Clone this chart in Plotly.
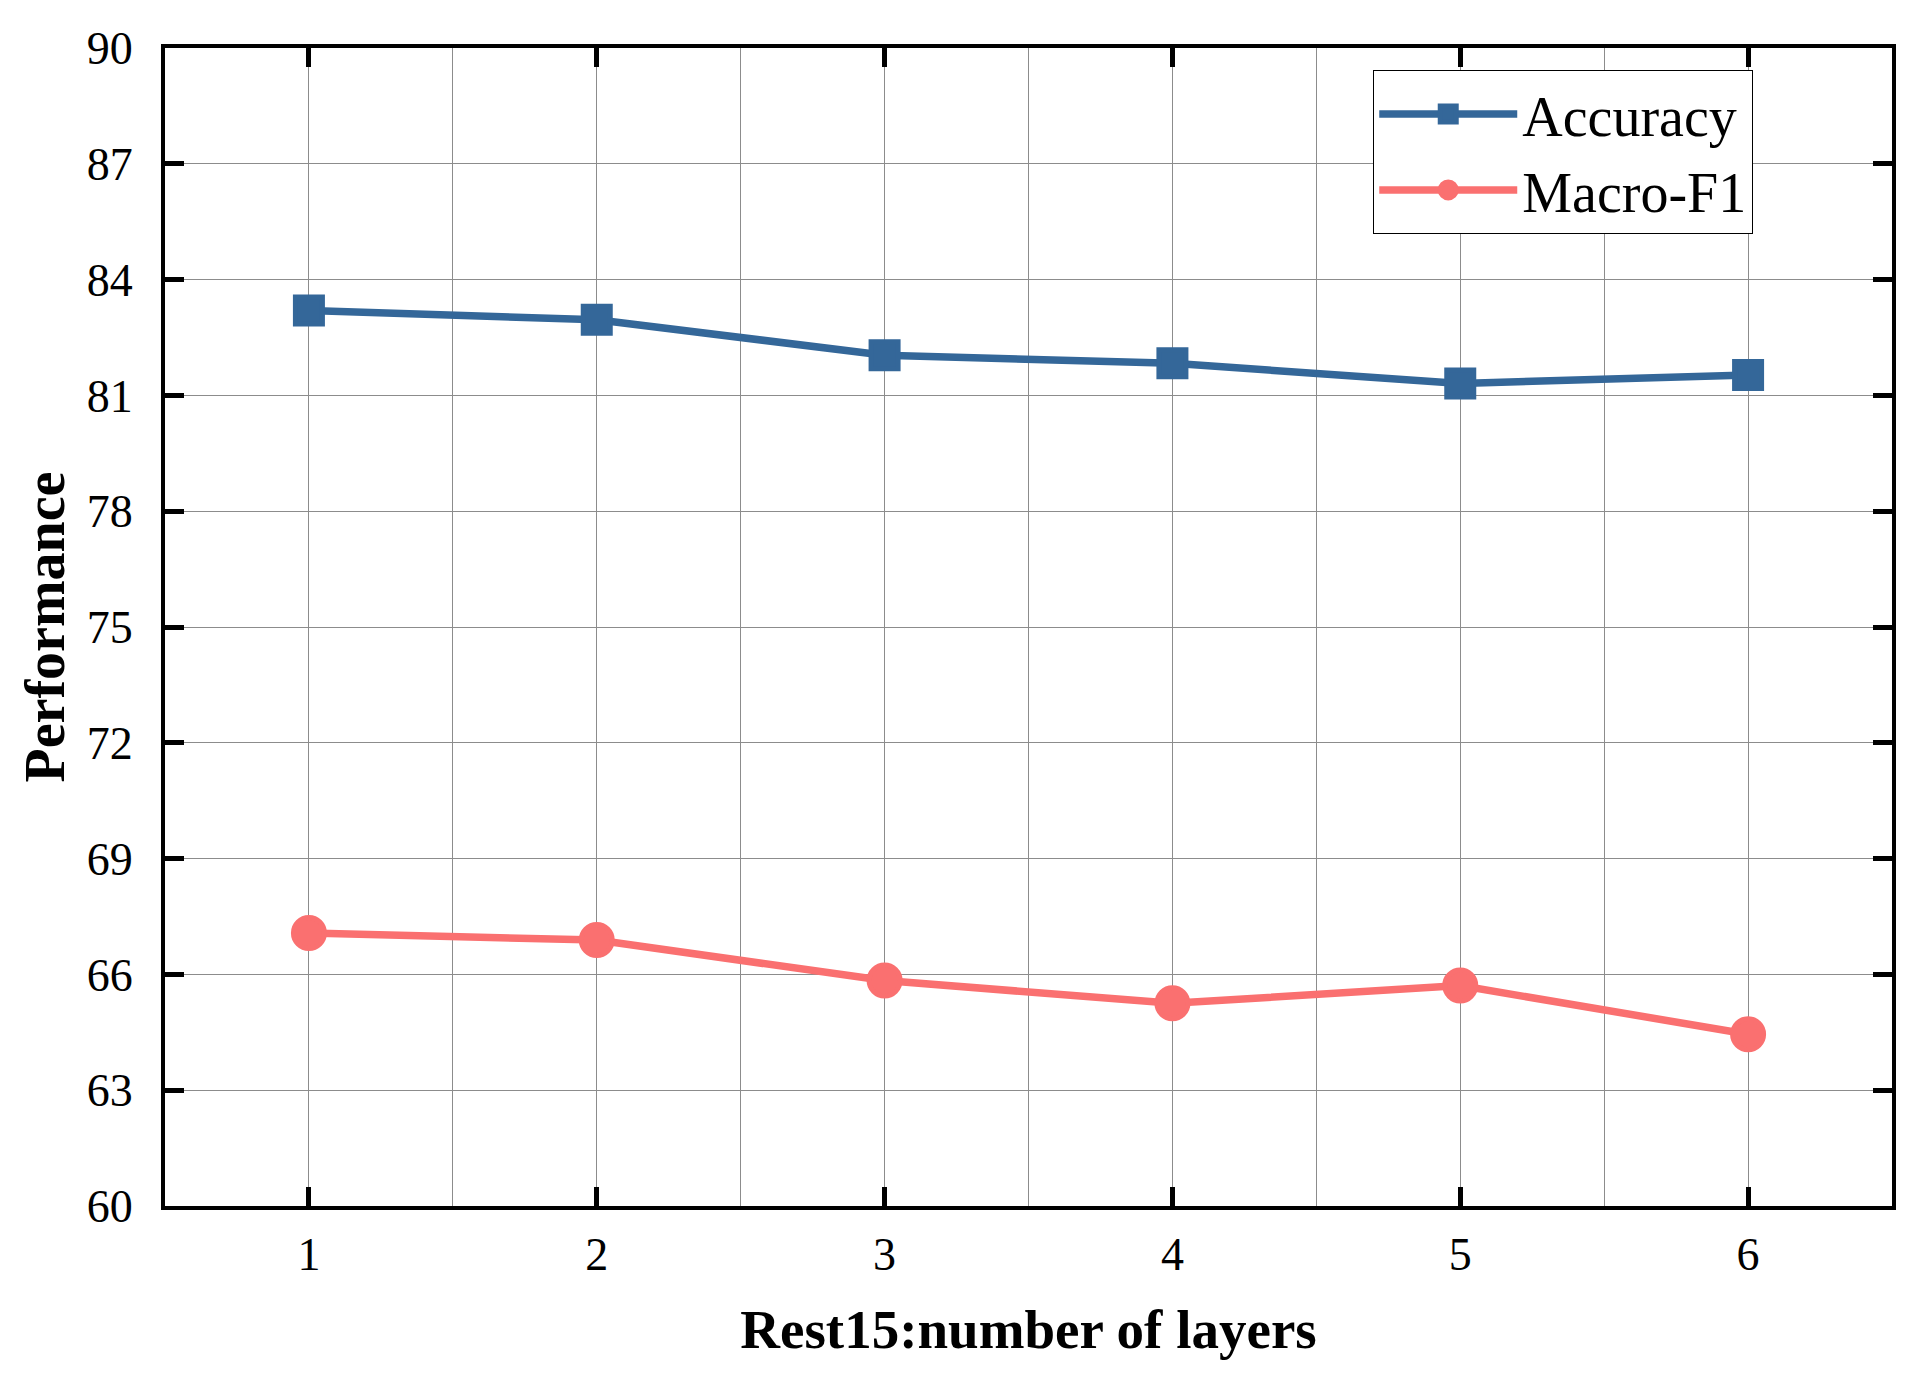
import plotly.graph_objects as go

# number of layers and scores
layers = [1, 2, 3, 4, 5, 6]
accuracy = [83.2, 82.96, 82.04, 81.83, 81.31, 81.53]
macro_f1 = [67.07, 66.89, 65.84, 65.25, 65.71, 64.45]
y_ticks = [60, 63, 66, 69, 72, 75, 78, 81, 84, 87, 90]

fonte = 'Liberation Serif, Times New Roman, serif'
azul = '#346799'
vermelho = '#FA7070'

fig = go.Figure()
fig.add_trace(go.Scatter(x=layers, y=accuracy, name='Accuracy', mode='lines+markers',
                         line=dict(color=azul, width=7.5),
                         marker=dict(symbol='square', size=27, color=azul,
                                     line=dict(color=azul, width=5))))
fig.add_trace(go.Scatter(x=layers, y=macro_f1, name='Macro-F1', mode='lines+markers',
                         line=dict(color=vermelho, width=7.5),
                         marker=dict(symbol='circle', size=31, color=vermelho,
                                     line=dict(color=vermelho, width=5))))

fig.update_layout(
    width=1916, height=1379,
    margin=dict(l=157, r=32, t=40, b=181),
    paper_bgcolor='white', plot_bgcolor='white',
    font=dict(family=fonte, color='black', size=46),
    showlegend=True,
    legend=dict(x=0.6995, y=0.981, xanchor='left', yanchor='top',
                bgcolor='white', bordercolor='black', borderwidth=1.2,
                font=dict(family=fonte, size=56), itemwidth=138,
                tracegroupgap=0),
)

fig.update_xaxes(
    range=[0.5, 6.5], tickvals=layers, ticktext=[str(v) for v in layers],
    showline=True, linecolor='black', linewidth=4, mirror='ticks',
    ticks='inside', ticklen=19, tickwidth=4.5, tickcolor='black',
    showgrid=True, gridcolor='#8c8c8c', gridwidth=1,
    minor=dict(tick0=0.5, dtick=0.5, showgrid=True, gridcolor='#8c8c8c', gridwidth=1, ticks=''),
    zeroline=False, ticklabelstandoff=5,
    tickfont=dict(family=fonte, size=46),
    title=dict(text='<b>Rest15:number of layers</b>', font=dict(family=fonte, size=55), standoff=31),
)
fig.update_yaxes(
    range=[60, 90], tickvals=y_ticks,
    showline=True, linecolor='black', linewidth=4, mirror='ticks',
    ticks='inside', ticklen=19, tickwidth=4.5, tickcolor='black',
    showgrid=True, gridcolor='#8c8c8c', gridwidth=1,
    zeroline=False, ticklabelstandoff=19,
    tickfont=dict(family=fonte, size=46),
    title=dict(text='<b>Performance</b>', font=dict(family=fonte, size=56), standoff=5),
)

fig.write_html("out.html")
